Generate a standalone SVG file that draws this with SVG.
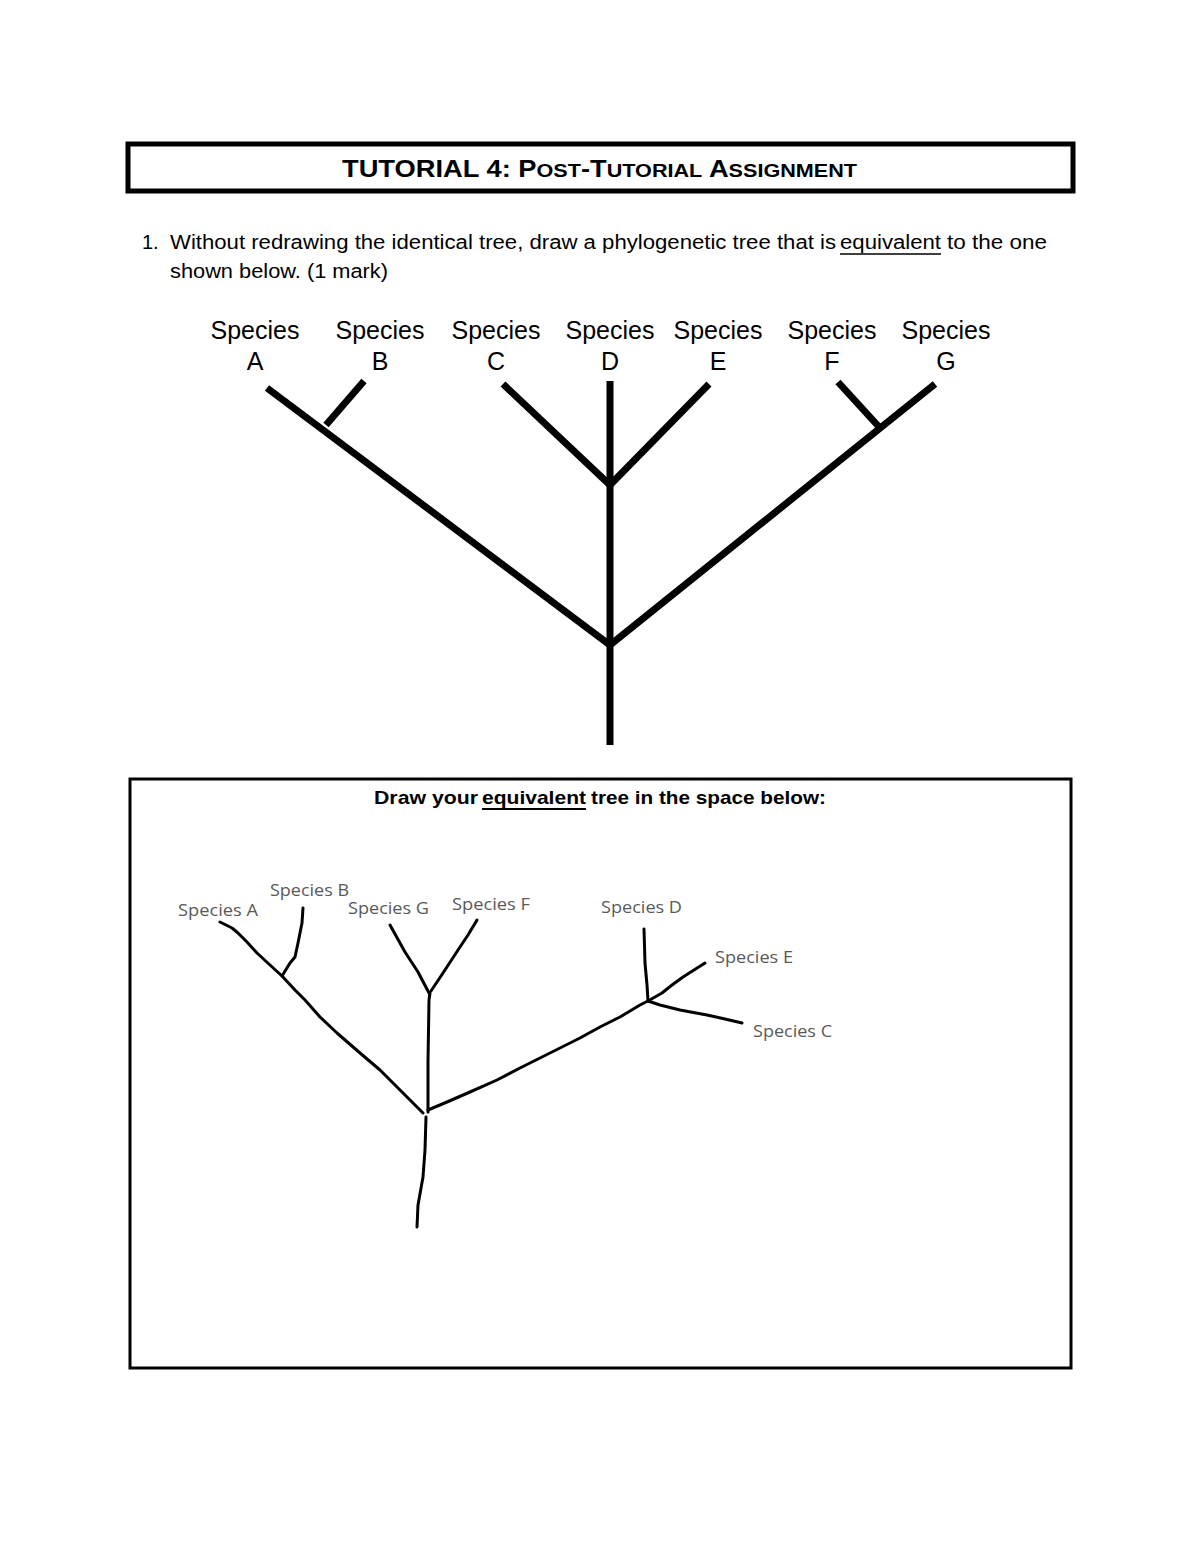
<svg xmlns="http://www.w3.org/2000/svg" width="1200" height="1553" viewBox="0 0 1200 1553">
<style>
.hdr{font-family:"Liberation Sans",Arial,sans-serif;fill:#000}
.sp{font-family:"Liberation Sans",Arial,sans-serif;font-size:25px;fill:#000;text-anchor:middle}
.hand{font-family:"Open Sans","Liberation Sans",sans-serif;font-size:16px;fill:#595959}
.thick{fill:none;stroke:#000;stroke-width:7;stroke-linecap:butt;stroke-linejoin:miter}
.thin{fill:none;stroke:#000;stroke-width:3;stroke-linecap:round;stroke-linejoin:round}
</style>
<rect width="1200" height="1553" fill="#fff"/>
<g id="title">
<rect x="128" y="144" width="945" height="47" fill="none" stroke="#000" stroke-width="5"/>
<text class="hdr" x="342" y="177" font-weight="bold" font-size="24" textLength="515" lengthAdjust="spacingAndGlyphs">TUTORIAL 4: P<tspan font-size="19">OST</tspan>-T<tspan font-size="19">UTORIAL</tspan> A<tspan font-size="19">SSIGNMENT</tspan></text>
</g>
<g id="question">
<text class="hdr" x="142" y="249" font-size="20">1.</text>
<text class="hdr" x="170" y="249" font-size="20" textLength="666" lengthAdjust="spacingAndGlyphs">Without redrawing the identical tree, draw a phylogenetic tree that is</text>
<text class="hdr" x="840" y="249" font-size="20" textLength="101" lengthAdjust="spacingAndGlyphs">equivalent</text>
<line x1="840" y1="254" x2="941" y2="254" stroke="#000" stroke-width="1.6"/>
<text class="hdr" x="947" y="249" font-size="20" textLength="100" lengthAdjust="spacingAndGlyphs">to the one</text>
<text class="hdr" x="170" y="278" font-size="20" textLength="218" lengthAdjust="spacingAndGlyphs">shown below. (1 mark)</text>
</g>
<g id="tree-labels">
<text class="sp" x="255" y="339">Species</text><text class="sp" x="255" y="370">A</text>
<text class="sp" x="380" y="339">Species</text><text class="sp" x="380" y="370">B</text>
<text class="sp" x="496" y="339">Species</text><text class="sp" x="496" y="370">C</text>
<text class="sp" x="610" y="339">Species</text><text class="sp" x="610" y="370">D</text>
<text class="sp" x="718" y="339">Species</text><text class="sp" x="718" y="370">E</text>
<text class="sp" x="832" y="339">Species</text><text class="sp" x="832" y="370">F</text>
<text class="sp" x="946" y="339">Species</text><text class="sp" x="946" y="370">G</text>
</g>
<g id="tree-connectors">
<line class="thick" x1="610" y1="745" x2="610" y2="645"/>
<polyline class="thick" points="267,388 610,645 935,384"/>
<line class="thick" x1="326" y1="425" x2="364" y2="381"/>
<line class="thick" x1="880" y1="428" x2="838" y2="382"/>
<line class="thick" x1="610" y1="645" x2="610" y2="381"/>
<polyline class="thick" points="503,384 610,485 709,384"/>
</g>
<g id="answer-box">
<rect x="130" y="779" width="941" height="589" fill="none" stroke="#000" stroke-width="3"/>
<text class="hdr" x="374" y="804" font-weight="bold" font-size="19" textLength="104" lengthAdjust="spacingAndGlyphs">Draw your</text>
<text class="hdr" x="482" y="804" font-weight="bold" font-size="19" textLength="104" lengthAdjust="spacingAndGlyphs">equivalent</text>
<line x1="482" y1="809" x2="586" y2="809" stroke="#000" stroke-width="1.8"/>
<text class="hdr" x="591" y="804" font-weight="bold" font-size="19" textLength="235" lengthAdjust="spacingAndGlyphs">tree in the space below:</text>
</g>
<g id="hand-labels">
<text class="hand" x="178" y="916" textLength="80" lengthAdjust="spacingAndGlyphs">Species A</text>
<text class="hand" x="270" y="896" textLength="79" lengthAdjust="spacingAndGlyphs">Species B</text>
<text class="hand" x="348" y="914" textLength="81" lengthAdjust="spacingAndGlyphs">Species G</text>
<text class="hand" x="452" y="910" textLength="78" lengthAdjust="spacingAndGlyphs">Species F</text>
<text class="hand" x="601" y="913" textLength="81" lengthAdjust="spacingAndGlyphs">Species D</text>
<text class="hand" x="715" y="963" textLength="78" lengthAdjust="spacingAndGlyphs">Species E</text>
<text class="hand" x="753" y="1037" textLength="79" lengthAdjust="spacingAndGlyphs">Species C</text>
</g>
<g id="hand-connectors">
<polyline class="thin" points="220,922 232,928 238,933 247,942 257,953 270,965 282,976 295,990 305,1000 320,1017 337,1033 360,1053 380,1070 400,1090 423,1113"/>
<polyline class="thin" points="282,976 290,963 295,957 298,943 302,923 303,908"/>
<polyline class="thin" points="390,925 405,952 418,972 429,993"/>
<polyline class="thin" points="477,920 468,935 460,947 443,973 431,991"/>
<polyline class="thin" points="430,993 429,1000 428,1062 428,1112"/>
<polyline class="thin" points="426,1117 425,1150 423,1177 418,1205 417,1227"/>
<polyline class="thin" points="428,1110 447,1102 470,1092 497,1080 520,1068 540,1058 560,1048 580,1038 600,1027 620,1017 640,1005 648,1001"/>
<polyline class="thin" points="644,929 645,963 647,985 648,1001"/>
<polyline class="thin" points="648,1001 662,993 672,985 683,977 705,963"/>
<polyline class="thin" points="648,1001 660,1005 680,1010 707,1015 725,1019 742,1023"/>
</g>
</svg>
